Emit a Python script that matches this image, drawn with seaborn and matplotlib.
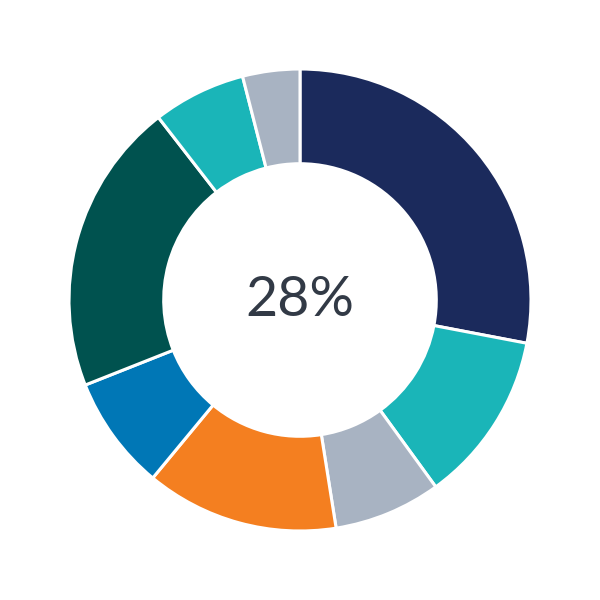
import matplotlib
matplotlib.use("Agg")
import matplotlib.pyplot as plt
import seaborn as sns

labels = ["A", "B", "C", "D", "E", "F", "G", "H"]
shares = [28, 12, 7.5, 13.5, 8, 20.5, 6.5, 4]
colors = ["#1b2a5c", "#1ab5b8", "#a8b3c2", "#f47f20",
          "#0077b6", "#00524f", "#1ab5b8", "#a8b3c2"]
center_label = "28%"

sns.set_theme(style="white")
plt.rcParams['font.family'] = ['Lato', 'DejaVu Sans']

fig = plt.figure(figsize=(6, 6), dpi=100)
ax = fig.add_axes([0, 0, 1, 1])

ax.pie(shares, colors=colors, startangle=90, counterclock=False,
       radius=1, wedgeprops=dict(width=0.41, edgecolor="white", linewidth=2.2))

ax.text(0, 0, center_label, ha="center", va="center",
        fontsize=40, color="#323a46")

lim = 300 / 231
ax.set_xlim(-lim, lim)
ax.set_ylim(-lim, lim)
ax.set_aspect("equal")
ax.axis("off")

fig.savefig("out.png", dpi=100, facecolor="white")
